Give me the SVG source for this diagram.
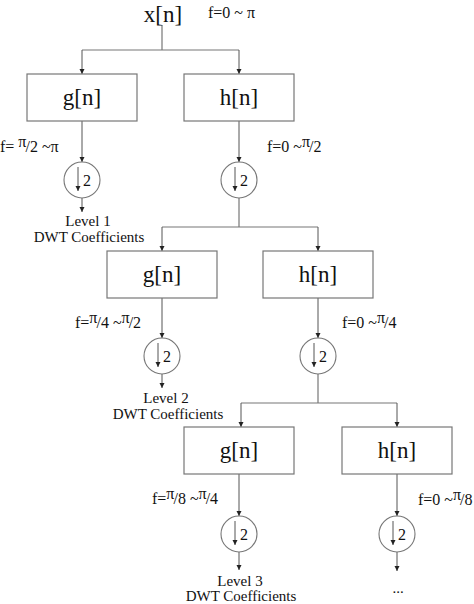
<svg xmlns="http://www.w3.org/2000/svg" width="474" height="604" viewBox="0 0 474 604">
<defs>
<marker id="ah" viewBox="0 0 8 8" refX="8" refY="4" markerWidth="5" markerHeight="6" orient="auto" markerUnits="userSpaceOnUse">
<path d="M0,0 L8,4 L0,8 z" fill="#222"/>
</marker>
</defs>
<style>
.box{fill:#fff;stroke:#777;stroke-width:1.2}
.circ{fill:#fff;stroke:#777;stroke-width:1.1}
.ln{fill:none;stroke:#777;stroke-width:1.2}
.arr{fill:none;stroke:#555;stroke-width:1;marker-end:url(#ah)}
text{font-family:'Times New Roman','Liberation Serif','DejaVu Serif',serif;fill:#111}
.big{font-size:23px;text-anchor:middle}
.lbl{font-size:15px;text-anchor:middle}
.fq{font-size:16px}
.two{font-size:16px}
</style>
<rect width="474" height="604" fill="#fff"/>

<g id="connectors">
<path class="ln" d="M162,25 V50 M82,50 H239"/>
<path class="arr" d="M82,50 V74"/>
<path class="arr" d="M239,50 V74"/>
<path class="arr" d="M82,121 V162"/>
<path class="arr" d="M239,121 V162"/>
<path class="arr" d="M82,198 V212"/>
<path class="ln" d="M239,198 V227 M162,227 H318"/>
<path class="arr" d="M162,227 V251"/>
<path class="arr" d="M318,227 V251"/>
<path class="arr" d="M162,298 V338"/>
<path class="arr" d="M318,298 V338"/>
<path class="arr" d="M162,374 V388"/>
<path class="ln" d="M318,374 V403 M241,403 H397"/>
<path class="arr" d="M241,403 V427"/>
<path class="arr" d="M397,403 V427"/>
<path class="arr" d="M239,474 V516"/>
<path class="arr" d="M397,474 V516"/>
<path class="arr" d="M239,552 V570"/>
<path class="arr" d="M397,552 V571"/>
</g>

<g id="input">
<text class="big" x="163" y="22">x[n]</text>
<text class="fq" x="208" y="18">f=0 ~ π</text>
</g>

<g id="g1">
<rect class="box" x="27" y="74" width="110" height="47"/>
<text class="big" x="82" y="105">g[n]</text>
</g>
<g id="h1">
<rect class="box" x="184" y="74" width="110" height="47"/>
<text class="big" x="239" y="105">h[n]</text>
</g>
<g id="f1">
<text class="fq" x="0" y="152">f= <tspan dy="-5">π</tspan><tspan dy="5" dx="-1">/2 ~π</tspan></text>
<text class="fq" x="267" y="152">f=0 ~<tspan dy="-5">π</tspan><tspan dy="5" dx="-1">/2</tspan></text>
</g>
<g id="ds1a">
<circle class="circ" cx="82" cy="180" r="18"/>
<path class="arr" d="M78,167 V191"/>
<text class="two" x="83" y="186">2</text>
</g>
<g id="ds1b">
<circle class="circ" cx="239" cy="180" r="18"/>
<path class="arr" d="M235,167 V191"/>
<text class="two" x="240" y="186">2</text>
</g>
<g id="out1">
<text class="lbl" x="88" y="226">Level 1</text>
<text class="lbl" x="89" y="242">DWT Coefficients</text>
</g>

<g id="g2">
<rect class="box" x="107" y="251" width="110" height="47"/>
<text class="big" x="162" y="282">g[n]</text>
</g>
<g id="h2">
<rect class="box" x="263" y="251" width="110" height="47"/>
<text class="big" x="318" y="282">h[n]</text>
</g>
<g id="f2">
<text class="fq" x="75" y="328">f=<tspan dy="-5">π</tspan><tspan dy="5" dx="-1">/4 ~</tspan><tspan dy="-5">π</tspan><tspan dy="5" dx="-1">/2</tspan></text>
<text class="fq" x="342" y="328">f=0 ~<tspan dy="-5">π</tspan><tspan dy="5" dx="-1">/4</tspan></text>
</g>
<g id="ds2a">
<circle class="circ" cx="162" cy="356" r="18"/>
<path class="arr" d="M158,343 V367"/>
<text class="two" x="163" y="362">2</text>
</g>
<g id="ds2b">
<circle class="circ" cx="318" cy="356" r="18"/>
<path class="arr" d="M314,343 V367"/>
<text class="two" x="319" y="362">2</text>
</g>
<g id="out2">
<text class="lbl" x="166" y="403">Level 2</text>
<text class="lbl" x="168" y="419">DWT Coefficients</text>
</g>

<g id="g3">
<rect class="box" x="184" y="427" width="110" height="47"/>
<text class="big" x="239" y="458">g[n]</text>
</g>
<g id="h3">
<rect class="box" x="342" y="427" width="110" height="47"/>
<text class="big" x="397" y="458">h[n]</text>
</g>
<g id="f3">
<text class="fq" x="152" y="504">f=<tspan dy="-5">π</tspan><tspan dy="5" dx="-1">/8 ~</tspan><tspan dy="-5">π</tspan><tspan dy="5" dx="-1">/4</tspan></text>
<text class="fq" x="418" y="505">f=0 ~<tspan dy="-5">π</tspan><tspan dy="5" dx="-1">/8</tspan></text>
</g>
<g id="ds3a">
<circle class="circ" cx="239" cy="534" r="18"/>
<path class="arr" d="M235,521 V545"/>
<text class="two" x="240" y="540">2</text>
</g>
<g id="ds3b">
<circle class="circ" cx="397" cy="534" r="18"/>
<path class="arr" d="M393,521 V545"/>
<text class="two" x="398" y="540">2</text>
</g>
<g id="out3">
<text class="lbl" x="240" y="586">Level 3</text>
<text class="lbl" x="241" y="601">DWT Coefficients</text>
</g>
<g id="more">
<text class="lbl" x="398" y="593">...</text>
</g>
</svg>
